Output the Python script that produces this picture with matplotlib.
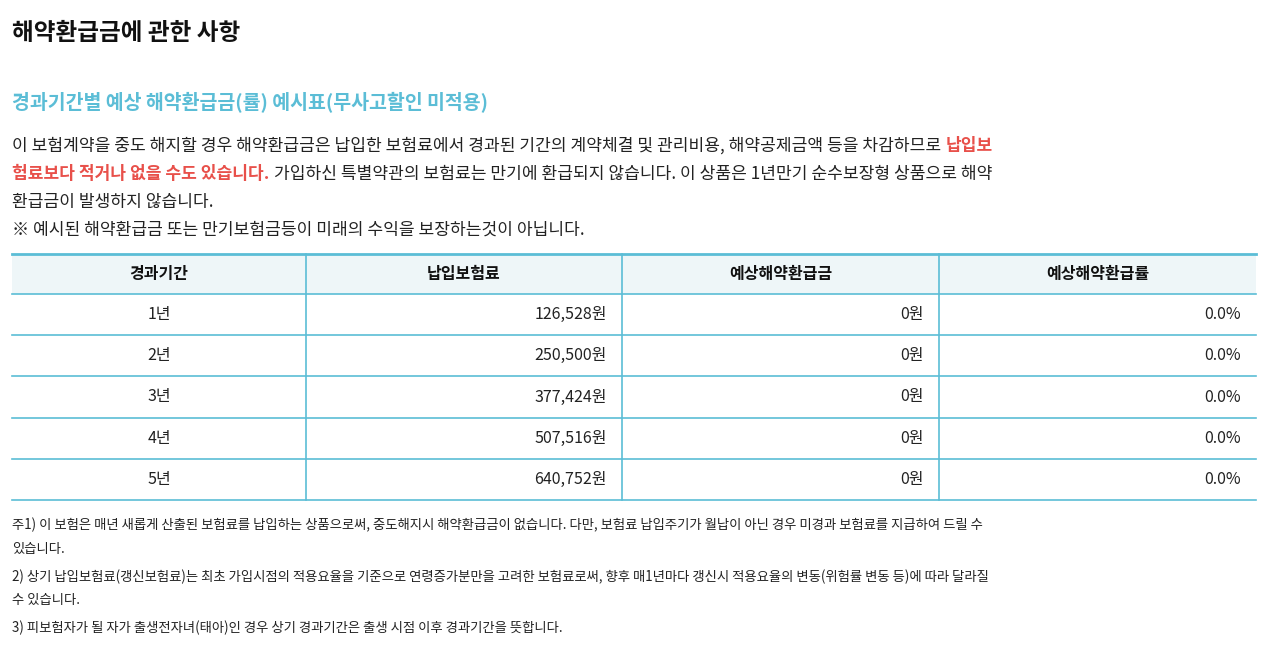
import matplotlib
matplotlib.use("Agg")
import matplotlib.pyplot as plt

plt.rcParams["font.family"] = ["Noto Sans CJK JP", "Noto Sans CJK KR", "Noto Sans CJK SC", "DejaVu Sans"]

years = ["1년", "2년", "3년", "4년", "5년"]
premiums = [126528, 250500, 377424, 507516, 640752]
refunds = [0, 0, 0, 0, 0]
rates = [0.0, 0.0, 0.0, 0.0, 0.0]
headers = ["경과기간", "납입보험료", "예상해약환급금", "예상해약환급률"]

TEAL = "#5bbdd6"
RED = "#e8504a"
TXT = "#222222"

fig = plt.figure(figsize=(12.8, 6.67), dpi=100)
ax = fig.add_axes([0, 0, 1, 1])
ax.set_xlim(0, 1280); ax.set_ylim(667, 0); ax.axis("off")
renderer = fig.canvas.get_renderer()


def text_after(prev, s, **kw):
    # place s right after text object prev (same line)
    bb = prev.get_window_extent(renderer)
    x = ax.transData.inverted().transform((bb.x1, bb.y0))[0]
    return ax.text(x + 5, prev.get_position()[1], s, va="center", **kw)


ax.text(12, 33, "해약환급금에 관한 사항", fontsize=17, fontweight="bold", color="#111", va="center")
ax.text(12, 103, "경과기간별 예상 해약환급금(률) 예시표(무사고할인 미적용)", fontsize=14,
        fontweight="bold", color=TEAL, va="center")

fs = 12.3
t1 = ax.text(12, 146, "이 보험계약을 중도 해지할 경우 해약환급금은 납입한 보험료에서 경과된 기간의 계약체결 및 관리비용, 해약공제금액 등을 차감하므로",
             fontsize=fs, color=TXT, va="center")
text_after(t1, "납입보", fontsize=fs, color=RED, fontweight="bold")
t2 = ax.text(12, 174, "험료보다 적거나 없을 수도 있습니다.", fontsize=fs, color=RED, fontweight="bold", va="center")
text_after(t2, "가입하신 특별약관의 보험료는 만기에 환급되지 않습니다. 이 상품은 1년만기 순수보장형 상품으로 해약",
           fontsize=fs, color=TXT)
ax.text(12, 202, "환급금이 발생하지 않습니다.", fontsize=fs, color=TXT, va="center")
ax.text(12, 230, "※ 예시된 해약환급금 또는 만기보험금등이 미래의 수익을 보장하는것이 아닙니다.",
        fontsize=fs, color=TXT, va="center")

# table
cols = [12, 306, 622, 939, 1256]
rows = [254, 294, 335, 376, 418, 459, 500]
ax.fill_between([cols[0], cols[-1]], rows[0], rows[1], color="#eef6f8", lw=0)
ax.plot([cols[0], cols[-1]], [rows[0]] * 2, color=TEAL, lw=2)
for y in rows[1:]:
    ax.plot([cols[0], cols[-1]], [y, y], color=TEAL, lw=1.2)
for x in cols[1:-1]:
    ax.plot([x, x], [rows[0], rows[-1]], color=TEAL, lw=1.2)

hy = (rows[0] + rows[1]) / 2
for i, h in enumerate(headers):
    ax.text((cols[i] + cols[i + 1]) / 2, hy, h, fontsize=11.5, fontweight="bold",
            color="#111", ha="center", va="center")

for r in range(len(years)):
    cy = (rows[r + 1] + rows[r + 2]) / 2
    ax.text((cols[0] + cols[1]) / 2, cy, years[r], fontsize=11.5, color=TXT, ha="center", va="center")
    ax.text(cols[2] - 15, cy, f"{premiums[r]:,}원", fontsize=11.5, color=TXT, ha="right", va="center")
    ax.text(cols[3] - 15, cy, f"{refunds[r]:,}원", fontsize=11.5, color=TXT, ha="right", va="center")
    ax.text(cols[4] - 15, cy, f"{rates[r]:.1f}%", fontsize=11.5, color=TXT, ha="right", va="center")

nfs = 9.6
notes = [
    (525, "주1) 이 보험은 매년 새롭게 산출된 보험료를 납입하는 상품으로써, 중도해지시 해약환급금이 없습니다. 다만, 보험료 납입주기가 월납이 아닌 경우 미경과 보험료를 지급하여 드릴 수"),
    (549, "있습니다."),
    (577, "2) 상기 납입보험료(갱신보험료)는 최초 가입시점의 적용요율을 기준으로 연령증가분만을 고려한 보험료로써, 향후 매1년마다 갱신시 적용요율의 변동(위험률 변동 등)에 따라 달라질"),
    (600, "수 있습니다."),
    (628, "3) 피보험자가 될 자가 출생전자녀(태아)인 경우 상기 경과기간은 출생 시점 이후 경과기간을 뜻합니다."),
]
for y, t in notes:
    ax.text(12, y, t, fontsize=nfs, color=TXT, va="center")

fig.savefig("out.png", dpi=100)
